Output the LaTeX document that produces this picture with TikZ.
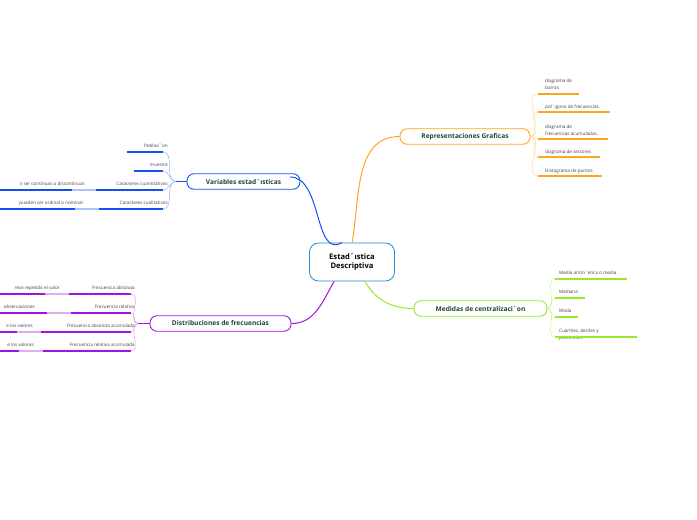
\documentclass[tikz,border=0pt]{standalone}
\usepackage{fontspec}
\setmainfont{Open Sans}
\definecolor{cb}{RGB}{20,80,240}
\definecolor{co}{RGB}{255,165,30}
\definecolor{cg}{RGB}{150,235,40}
\definecolor{cp}{RGB}{160,20,225}
\definecolor{ctx}{RGB}{25,70,55}
\definecolor{cc}{RGB}{40,140,210}
\tikzset{
  branch/.style={draw, rounded corners=7pt, line width=0.9pt, text=ctx, font=\fontsize{6.6}{7}\selectfont\bfseries, minimum height=15.5pt, inner sep=2pt},
  lt/.style={font=\fontsize{4.6}{7}\selectfont, text=black!75, inner sep=0pt, align=left},
  ul/.style={line width=1.2pt},
  cn/.style={line width=0.5pt}
}
\newcommand\lf[8]{% name, color, textx, texty, anchor, x1, x2, liney  ; text via #8
  \node[lt,anchor=#5] (#1) at (#3,#4) {#8};
  \coordinate (#1a) at (#6,#7);
  \draw[ul,#2] (#1a) -- (#1a -| #1b);
}
\begin{document}
\begin{tikzpicture}[x=1pt,y=-1pt]
\useasboundingbox (0,0) rectangle (697,520);
% center
\node[draw=cc, line width=0.8pt, rounded corners=9pt, minimum width=85pt, minimum height=38pt, align=center, font=\fontsize{7.6}{9.5}\selectfont\bfseries, text=black] (c) at (352,262) {Estad´ıstica\\Descriptiva};
\node[branch, draw=cb, minimum width=113pt] (v) at (243.5,181.5) {Variables estad´ısticas};
\node[branch, draw=co, minimum width=130pt] (r) at (465,136.5) {Representaciones Graficas};
\node[branch, draw=cg, minimum width=133pt] (m) at (480.5,308.5) {Medidas de centralizaci´on};
\node[branch, draw=cp, minimum width=141pt] (d) at (220.5,323.5) {Distribuciones de frecuencias};
% main connectors
\draw[cb, line width=1pt] (c.north west) ++(33,0) coordinate (c1) (c1) to[out=-110+180+140,in=0] (290,177);
\draw[co, line width=1pt] ([xshift=43pt]c.north west) to[out=80,in=180] (r.west);
\draw[cg, line width=1pt] ([xshift=-30pt]c.south east) to[out=-60,in=180] (m.west);
\draw[cp, line width=1pt] ([xshift=25pt]c.south west) to[out=-120,in=0] (d.east);
% --- Variables leaves
\coordinate (vj) at (176,181.5);
\draw[cb,cn] (v.west) -- (vj);
\foreach \n/\t/\ty/\xa/\ly in {p/{Poblaci´on}/146/127/152, mu/muestra/165/134/171, cu/{Caracteres cuantitativos}/184/96/190, cl/{Caracteres cualitativos}/203/99/209}{
  \node[lt,anchor=east] (\n) at (168,\ty) {\t};
  \coordinate (\n a) at (\xa,\ly); \coordinate (\n b) at (163,\ly);
  \draw[ul,cb] (\n a) -- (\n b);
  \draw[cb!45,cn] (vj) to[out=180,in=0] (\n b);
}
\node[lt,anchor=east] (cu2) at (85,184) {n ser continuas o discontinuas};
\coordinate (cu2a) at (0,190); \coordinate (cu2b) at (72,190);
\draw[ul,cb] (cu2a) -- (cu2b); \draw[cb!35,ul] (cu2b) -- (cua);
\node[lt,anchor=east] (cl2) at (83,203) {pueden ser ordinal o nominal};
\coordinate (cl2a) at (0,209); \coordinate (cl2b) at (75,209);
\draw[ul,cb] (cl2a) -- (cl2b); \draw[cb!35,ul] (cl2b) -- (cla);
% --- Distribuciones leaves
\coordinate (dj) at (138,323.5);
\draw[cp,cn] (d.west) -- (dj);
\foreach \n/\t/\ty/\xa/\xs/\st/\ss/\se in {fa/{Frecuencia absoluta}/288/69/45/{rece repetido el valor}/60/45, fr/{Frecuencia relativa}/307/71/47/observaciones/35/47, faa/{Frecuencia absoluta acumulada}/326/41/17/{e los valores}/33/17, fra/{Frecuencia relativa acumulada}/345/43/19/{e los valores}/34/19}{
  \node[lt,anchor=east] (\n) at (135,\ty) {\t};
  \coordinate (\n a) at (\xa,\ty+6); \coordinate (\n b) at (131,\ty+6);
  \draw[ul,cp] (\n a) -- (\n b);
  \draw[cp!40,cn] (dj) to[out=180,in=0] (\n b);
  \node[lt,anchor=east] (\n 2) at (\ss,\ty) {\st};
  \coordinate (\n 2a) at (0,\ty+6); \coordinate (\n 2b) at (\se,\ty+6);
  \draw[ul,cp] (\n 2a) -- (\n 2b); \draw[cp!35,ul] (\n 2b) -- (\n a);
}
% --- Representaciones leaves
\coordinate (rj) at (530,136.5);
\foreach \n/\t/\ty/\ly/\xb in {r1/{diagrama de\\barras}/84/94/579, r2/{pol´ıgono de frecuencias.}/107/112/610, r3/{diagrama de\\frecuencias acumuladas.}/130.5/139/608, r4/{diagrama de sectores}/152/157/600, r5/{Histograma de puntos}/171/176/602}{
  \node[lt,anchor=west] (\n) at (545,\ty) {\t};
  \coordinate (\n a) at (538,\ly); \coordinate (\n b) at (\xb,\ly);
  \draw[ul,co] (\n a) -- (\n b);
  \draw[co!45,cn] (rj) to[out=0,in=180] (\n a);
}
% --- Medidas leaves
\coordinate (mj) at (547,308.5);
\foreach \n/\t/\ty/\ly/\xb in {m1/{Media aritm´etica o media}/273/279/627, m2/Mediana/292/298/585, m3/Moda/311/317/578, m4/{Cuartiles, deciles y\\percentiles}/334.5/337/637}{
  \node[lt,anchor=west] (\n) at (559,\ty) {\t};
  \coordinate (\n a) at (555,\ly); \coordinate (\n b) at (\xb,\ly);
  \draw[ul,cg] (\n a) -- (\n b);
  \draw[cg!50,cn] (mj) to[out=0,in=180] (\n a);
}
\end{tikzpicture}
\end{document}
